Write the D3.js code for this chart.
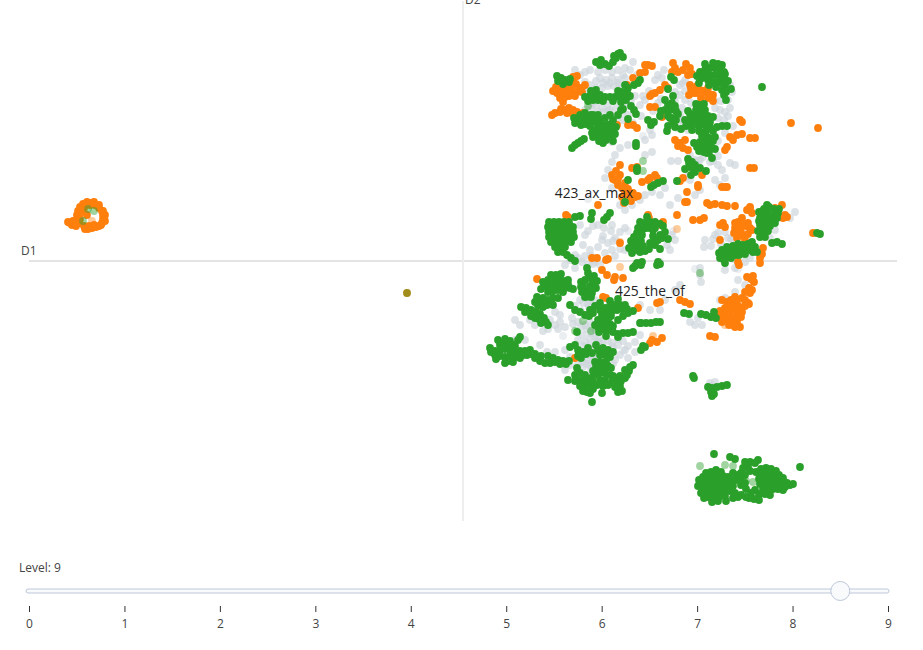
<!DOCTYPE html>
<html>
<head>
<meta charset="utf-8">
<script src="https://d3js.org/d3.v7.min.js"></script>
<style>
  html, body { margin: 0; padding: 0; background: #fff; }
  svg { display: block; }
  text { font-family: "Open Sans", Verdana, sans-serif; fill: #444; }
</style>
</head>
<body>
<svg id="chart"></svg>
<script>
// D1, D2 pairs
const grayPoints = [
  [112,191],[117,186],[122,189],[127,191],[135,189],[142,191],[149,189],[155,191],[162,193],[167,191],[170,199],[174,186],
  [137,183],[143,181],[149,183],[155,181],[162,183],[122,179],[127,176],[133,173],[139,173],[145,175],[151,175],[157,173],
  [127,156],[133,156],[139,153],[145,156],[122,151],[129,151],[135,149],[141,149],[147,151],[153,153],[159,155],[159,149],
  [165,146],[154,143],[160,141],[177,156],[182,161],[195,186],[201,191],[192,181],[199,183],[217,176],[222,181],[212,169],
  [217,166],[222,161],[219,153],[217,146],[220,139],[214,133],[225,131],[230,133],[252,153],[257,151],[262,149],[255,143],
  [261,141],[267,153],[265,161],[269,169],[267,176],[187,131],[182,121],[189,126],[165,116],[157,113],[149,119],[182,106],
  [189,109],[227,106],[232,101],[237,101],[247,99],[255,96],[259,91],[267,98],[272,96],[262,83],[257,76],[252,81],[237,71],
  [232,66],[227,81],[152,106],[149,99],[145,91],[142,83],[149,73],[157,56],[162,51],[169,56],[177,61],[182,66],[189,69],
  [197,66],[207,56],[215,63],[202,73],[135,36],[141,33],[149,36],[139,21],[145,18],[152,23],[117,36],[122,26],[120,16],
  [127,11],[149,11],[157,29],[162,33],[162,11],[204,16],[209,26],[212,21],[207,11],[197,-1],[112,6],[107,1],[102,-4],
  [112,-7],[119,-1],[125,-4],[132,-1],[137,-4],[262,29],[265,23],[252,26],[242,21],[241,14],[269,23],[287,3],[282,-1],
  [272,-7],[282,6],[307,23],[312,31],[327,43],[332,49],[237,-7],[237,-14],[238,-21],[262,-9],[275,-19],[282,-24],[272,-31],
  [262,-37],[257,-39],[127,-39],[122,-37],[132,-39],[117,-39],[127,-61],[122,-64],[115,-61],[109,-57],[97,-61],[92,-64],
  [87,-59],[97,-54],[92,-51],[120,-74],[127,-77],[132,-77],[135,-81],[127,-84],[122,-81],[115,-79],[127,-91],[130,-97],
  [125,-99],[120,-101],[117,-97],[127,-104],[132,-109],[129,-114],[107,-104],[102,-109],[137,-82],[149,-82],[155,-84],
  [162,-89],[157,-94],[152,-99],[165,-97],[172,-91],[177,-74],[172,-81],[202,-39],[197,-49],[227,-61],[232,-64],[235,-57],
  [239,-64],[217,-24],[212,-29],[177,-44],[187,-49],[72,-64],[67,-59],[57,-64],[52,-59],[62,-79],[52,-79],[77,-84],[84,-91],
  [92,-91],[102,-89],[107,-96],[249,-125],[247,-122],[252,-121],[137,-95],[143,-100],[150,-103],[112,-45],[118,-50],[126,-46]
];

const grayExtra = [
  [125,172],[133,180],[140,178],[147,178],[155,178],[160,186],[130,158],[145,150],[152,145],[168,160],[172,165],[180,165],
  [186,170],[195,158],[190,150],[178,145],[170,138],[165,155],[198,162],[212,160],[214,150],[218,142],[222,170],[220,178],
  [228,158],[252,160],[258,160],[265,145],[270,135],[255,120],[262,128],[255,105],[250,100],[235,100],[240,104],[225,85],
  [215,100],[208,100],[130,35],[125,30],[140,25],[148,30],[150,20],[135,14],[142,8],[152,5],[157,12],[128,5],[130,-3],
  [122,5],[115,3],[255,28],[258,17],[248,15],[250,22],[268,22],[270,2],[275,-3],[125,-43],[120,-42],[130,-66],[124,-68],
  [118,-66],[110,-63],[102,-66],[95,-68],[85,-68],[80,-70],[128,-72],[133,-70],[120,-85],[130,-88],[126,-94],[124,-103],
  [128,-108],[132,-96],[115,-103],[120,-106],[135,-77],[145,-80],[155,-78],[165,-85],[160,-80],[150,-86],[140,-80]
];

const orangePoints = [
  [-395,39],[-393,38],[-391,36],[-387,35],[-387,41],[-386,46],[-385,50],[-383,54],[-380,57],[-376,59],[-372,58],[-368,56],
  [-364,53],[-361,50],[-360,46],[-360,42],[-361,38],[-364,35],[-367,34],[-371,33],[-375,32],[-378,32],[-376,46],
  [93,174],[98,173],[103,174],[108,175],[113,177],[118,171],[94,168],[99,168],[104,169],[109,171],[114,169],[119,169],
  [97,163],[102,164],[100,159],[110,184],[114,185],[89,146],[97,149],[102,151],[106,153],[110,151],[114,149],[120,148],
  [164,176],[170,183],[177,188],[182,189],[185,196],[182,196],[189,195],[187,165],[192,168],[197,171],[202,176],[205,173],
  [189,167],[210,198],[212,193],[215,189],[220,191],[227,193],[223,197],[209,189],[229,187],[225,186],[227,176],[232,173],
  [237,171],[242,169],[247,166],[249,163],[245,173],[230,168],[154,136],[165,136],[170,136],[174,133],[187,154],[192,154],
  [199,144],[277,141],[279,139],[267,124],[274,126],[279,127],[287,123],[292,123],[270,121],[264,114],[262,111],[212,121],
  [217,118],[222,121],[220,113],[225,111],[215,115],[239,86],[287,93],[291,93],[235,74],[235,76],[224,69],[224,59],[220,83],
  [217,80],[264,74],[262,74],[259,74],[149,86],[152,81],[155,76],[159,73],[162,69],[167,66],[159,64],[164,61],[172,64],
  [157,96],[169,93],[174,94],[194,83],[192,86],[187,83],[185,81],[179,79],[244,58],[247,56],[252,57],[259,56],[264,55],
  [272,55],[287,53],[289,48],[312,53],[319,56],[322,46],[320,43],[328,138],[355,133],[105,44],[103,46],[135,56],[134,3],
  [129,3],[145,2],[143,1],[185,46],[186,43],[200,39],[198,36],[157,18],[214,46],[222,59],[230,41],[237,41],[241,43],
  [260,38],[257,36],[262,34],[275,39],[279,43],[272,33],[277,33],[275,27],[280,25],[285,27],[282,21],[287,33],[289,31],
  [284,51],[287,54],[324,44],[300,13],[299,7],[297,3],[297,-2],[275,-1],[276,-4],[284,-16],[288,-18],[290,-15],[291,-21],
  [289,-29],[287,-32],[257,21],[350,28],[74,-18],[144,-14],[152,-16],[151,-19],[139,-9],[160,-17],[259,-39],[264,-41],
  [269,-43],[274,-39],[279,-37],[282,-31],[257,-56],[262,-54],[267,-51],[272,-49],[277,-47],[282,-45],[259,-61],[264,-59],
  [269,-57],[274,-55],[279,-51],[270,-64],[274,-61],[277,-66],[265,-47],[270,-42],[285,-42],[286,-43],[286,-27],[247,-75],
  [252,-76],[217,-39],[222,-41],[227,-43],[194,-42],[197,-41],[140,-36],[143,-37],[189,-79],[194,-81],[187,-82],[199,-77],
  [112,-97],[175,-47],[-56,-32]
];

const orangeExtra = [
  [-383,42],[-381,49],[-379,53],[-373,56],[-369,59],[-364,56],[-360,50],[-358,46],[-358,40],[-362,36],[-369,36],[-374,35],
  [-379,35],[-390,40],[-384,38],[90,170],[96,178],[104,178],[110,178],[112,165],[106,165],[117,173],[122,176],
  [92,148],[98,152],[104,148],[109,148],[228,172],[233,168],[240,170],[245,168],[250,166],[234,175],[226,166],[238,163],
  [250,160],[245,163],[150,82],[157,86],[162,78],[165,72],[170,68],[155,82],[168,60],[161,58],[175,65],[153,90],[272,38],
  [276,32],[280,36],[283,35],[278,29],[285,38],[271,28],[274,23],[257,-50],[262,-47],[268,-46],[272,-44],[276,-50],
  [263,-52],[268,-60],[273,-58],[278,-56],[266,-64],[272,-66],[259,-55],[275,-45],[282,-39],[272,-36],[268,-39]
];

const greenPoints = [
  // top left
  [133,199],[137,196],[142,197],[146,195],[150,199],[153,203],[155,207],[157,208],[160,204],[151,205],[138,201],
  [94,185],[98,183],[102,181],[106,179],[95,180],[100,177],[107,182],
  [122,164],[127,165],[132,166],[137,166],[142,164],[147,164],[152,164],[157,164],[162,165],[159,169],[164,169],[163,161],[158,159],[165,173],[162,176],
  [111,143],[117,146],[122,143],[127,141],[122,137],[127,135],[132,139],[137,141],[142,143],[147,146],[135,133],[140,133],[144,136],[148,137],
  [137,128],[142,128],[134,126],[139,123],[143,121],[147,126],[149,131],[132,131],[129,128],[140,118],[117,140],[128,146],[135,146],
  [109,113],[112,116],[115,118],[118,120],[121,122],
  // top centre
  [171,176],[175,178],[177,181],[168,155],[171,151],[173,147],[185,141],[188,136],[191,139],
  [202,161],[205,156],[207,151],[202,151],[209,158],[207,143],[210,139],[205,145],[213,141],[208,184],[211,181],
  // top right
  [237,189],[242,191],[247,193],[252,193],[257,191],[261,189],[242,185],[247,186],[252,186],[257,185],[261,183],[234,185],[239,183],[245,181],
  [250,179],[255,179],[259,178],[262,176],[259,171],[263,169],[261,166],[263,161],[299,174],
  [233,157],[237,156],[241,157],[233,151],[237,151],[242,151],[230,146],[235,146],[240,146],[245,145],[227,141],[232,141],[237,141],[242,141],[247,139],
  [235,136],[241,136],[247,134],[239,125],[244,124],[237,119],[242,119],[247,118],[234,114],[239,114],[244,114],[249,113],[241,109],[246,109],
  [254,134],[259,135],[264,135],[225,102],[229,99],[232,96],[227,94],[237,93],[243,90],[232,89],[249,103],
  [173,118],[173,115],[174,93],[174,90],[165,81],[162,59],[200,80],[195,78],[191,76],[188,74],[214,80],
  // middle left
  [86,39],[91,39],[96,39],[101,39],[106,39],[85,34],[90,34],[95,34],[100,34],[105,34],[110,34],[86,29],[91,29],[96,29],[101,29],[106,29],[110,29],
  [86,24],[91,24],[96,24],[101,24],[106,24],[111,24],[88,19],[93,19],[98,19],[103,19],[108,19],[92,14],[97,14],[102,14],[95,9],[100,9],
  [112,44],[117,45],[129,48],[128,42],[147,48],[144,44],[141,41],[104,6],[108,3],[112,0],
  // middle centre
  [177,39],[182,38],[187,39],[192,39],[197,37],[175,33],[180,32],[187,33],[174,28],[179,26],[197,26],[202,29],[195,21],[199,23],[173,21],[178,20],
  [170,16],[175,15],[180,15],[172,11],[177,9],[192,16],[187,18],[174,-2],[179,-1],[172,-5],[194,-4],[195,-1],
  // middle right
  [296,49],[301,52],[306,54],[311,52],[315,48],[299,45],[305,47],[310,45],[314,43],[307,41],[297,43],
  [297,36],[302,36],[307,35],[295,30],[300,30],[305,30],[297,24],[302,24],
  [259,11],[264,14],[270,15],[275,17],[280,16],[285,17],[259,5],[263,8],[269,9],[274,11],[279,11],[287,11],[292,14],[261,1],[265,5],[272,6],
  [309,18],[314,19],[319,17],[354,28],[357,27],
  // lower left
  [80,-21],[85,-19],[90,-18],[95,-18],[100,-20],[105,-23],[82,-25],[87,-25],[92,-24],[97,-24],[102,-27],[107,-27],
  [125,-12],[127,-17],[122,-19],[130,-22],[120,-24],[127,-25],[133,-27],[123,-30],[129,-32],[119,-31],
  [58,-46],[63,-47],[68,-49],[73,-51],[77,-53],[81,-57],[83,-61],[85,-64],[75,-45],[80,-46],[85,-39],[90,-37],[95,-37],[74,-36],[80,-37],
  // lower centre
  [137,-49],[142,-47],[147,-45],[152,-44],[157,-44],[162,-44],[139,-54],[144,-52],[149,-50],[154,-49],[159,-48],[164,-48],
  [135,-59],[140,-59],[145,-57],[141,-64],[147,-63],[137,-65],[135,-66],[142,-69],[117,-51],[122,-54],[127,-49],[114,-71],[107,-44],[112,-49],
  [178,-62],[183,-62],[188,-62],[193,-61],[197,-61],[155,-73],[160,-72],[165,-72],[170,-71],[155,-76],[177,-62],
  [180,-85],[178,-89],[182,-86],
  // far lower left
  [28,-91],[32,-90],[37,-89],[42,-88],[47,-89],[52,-90],[57,-90],[62,-90],[67,-89],[37,-84],[41,-81],[42,-78],[32,-94],[37,-95],[42,-96],[47,-95],
  [52,-96],[57,-97],[45,-84],[51,-84],[42,-102],[57,-76],[55,-79],
  [72,-97],[77,-100],[82,-102],[87,-102],[85,-95],[90,-97],[95,-99],[100,-100],[103,-103],
  // lower column
  [107,-86],[112,-84],[115,-89],[120,-91],[123,-93],
  [135,-89],[140,-87],[145,-89],[137,-94],[142,-94],[147,-96],[132,-101],[137,-101],[143,-101],[133,-106],[138,-106],
  [114,-107],[112,-114],[117,-112],[122,-114],[115,-119],[120,-119],[125,-119],[117,-125],[122,-125],[127,-124],
  [132,-114],[137,-112],[142,-112],[147,-114],[152,-117],[157,-115],[162,-109],[167,-106],[170,-104],[164,-114],[137,-119],[142,-119],
  [149,-121],[134,-124],[140,-125],[155,-123],[157,-125],[124,-131],[127,-132],[120,-130],[129,-141],[139,-132],[155,-131],[159,-130],[105,-119],
  // small cluster and right pieces
  [230,-115],[231,-117],[245,-126],[249,-127],[254,-126],[259,-125],[264,-124],[248,-131],[251,-133],[249,-135],
  [221,-52],[226,-53],[238,-53],[243,-54],[248,-56],[253,-57],[251,-51],
  // bottom blob
  [251,-193],[267,-196],[272,-198],[282,-201],[287,-201],[292,-202],[285,-206],[295,-199],[337,-206],[330,-223],[327,-224],
  [243,-212],[248,-211],[253,-209],[258,-211],[240,-216],[245,-216],[250,-215],[255,-215],[260,-215],[265,-216],[270,-212],[275,-214],
  [238,-221],[243,-221],[248,-220],[253,-220],[258,-220],[263,-220],[268,-219],[273,-219],[240,-226],[245,-225],[250,-225],[255,-225],[260,-225],[265,-225],[270,-225],
  [242,-231],[247,-230],[252,-230],[257,-230],[262,-230],[267,-230],[245,-236],[251,-235],[256,-236],[262,-235],[249,-241],[255,-240],
  [278,-224],[283,-228],[288,-232],[292,-229],[296,-233],[302,-233],[307,-234],[282,-214],[287,-210],[293,-211],[280,-207],
  [298,-208],[303,-207],[308,-208],[313,-210],[296,-213],[301,-213],[306,-212],[311,-213],[316,-214],[320,-217],[296,-218],[301,-218],[306,-218],[311,-218],
  [316,-218],[321,-221],[324,-222],[297,-223],[302,-223],[307,-223],[312,-223],[317,-223],[322,-226],[300,-228],[305,-228],[310,-228],[315,-228],[320,-229]
];

const greenExtra = [
  [277,-218],[282,-222],[286,-237],[291,-238],[296,-239],[278,-234],[283,-236],[272,-232],[275,-236],[270,-237],[263,-240],
  [235,-225],[236,-219],[238,-232],[241,-237],[278,-212],
  [125,160],[130,161],[135,161],[140,160],[128,170],[133,171],[150,160],[155,170],[167,165],
  [122,148],[130,146],[132,143],[112,138],[118,136],[130,124],[136,120],[145,132],[152,127],[150,120],[138,136],[150,141],[153,134],[155,146],[158,151],
  [236,178],[246,176],[253,174],[242,197],[250,198],[255,197],[259,196],[262,187],[265,180],[268,172],
  [225,150],[227,147],[223,135],[229,131],[236,130],[243,130],[250,130],[222,141],[250,144],[228,136],[252,124],
  [160,152],[165,142],[205,172],[210,165],[212,155],[198,150],[197,145],[213,150],[215,147],[205,135],[212,134],[218,132],[204,130],[209,143],
  [236,110],[244,108],[231,118],[250,120],[252,112],[246,123],[240,128],[226,98],[231,92],[228,86],[222,92],
  [183,33],[190,31],[192,33],[200,35],[184,44],[171,24],[168,20],[166,13],[169,8],[182,10],[186,12],[190,18],[197,12],[190,25],[205,22],[170,-7],[178,-4],[197,-3],
  [256,8],[262,-2],[257,3],[268,3],[276,6],[282,7],[290,9],[294,9],[284,12],[289,19],[296,40],[303,41],[312,38],[316,52],[304,56],[300,50],
  [78,-28],[85,-31],[95,-29],[100,-31],[90,-30],[88,-14],[93,-14],[98,-13],[105,-19],[110,-28],
  [118,-21],[124,-7],[131,-15],[134,-20],[128,-36],[122,-36],[118,-26],
  [62,-51],[68,-55],[72,-57],[76,-58],[78,-62],[84,-44],[72,-41],[78,-41],[90,-44],
  [132,-45],[137,-42],[130,-52],[132,-64],[126,-55],[147,-40],[155,-38],[165,-52],[170,-50],[145,-69],[150,-65],[155,-59],[160,-55],[148,-55],[143,-75],[136,-71],[150,-71],
  [27,-87],[33,-98],[45,-100],[50,-101],[60,-94],[35,-79],[47,-80],[52,-85],[64,-94],[68,-93],[72,-93],[78,-95],[92,-101],[97,-103],[106,-100],
  [115,-95],[118,-97],[125,-87],[129,-92],[133,-84],[140,-93],[150,-91],[145,-105],[140,-108],[148,-107],[130,-110],[112,-120],[128,-117],[130,-121],[145,-124],[150,-115],[158,-120],[162,-117],[166,-110],[152,-126],[130,-128]
];

// single points with much lower opacity
const grayFaint = [[150,120],[180,125],[260,170],[215,140],[125,62],[165,30],[210,30],[232,-8],[275,-8],[100,-75],[160,-90]];
const orangeFaint = [[157,19],[157,-6],[214,32],[262,-64],[190,-75],[280,-44],[-387,37],[-371,40]];
const greenFaint = [[-375,52],[-369,50],[-380,40],[237,-12],[124,-36],[112,-70],[128,-70],[120,-60],[237,-205],[262,-204],[270,-205],[280,-215],[283,-220],[290,-221],[-56,-32],[125,155],[180,90],[180,100]];

const nodeLabels = ["423_ax_max", "425_the_of"];
const labelPoints = [[131,68],[187,-30]];

const levelTicks = [0, 1, 2, 3, 4, 5, 6, 7, 8, 9];
const levelLabel = "Level: 9";
const handleValue = 8.5;

const width = 923;
const height = 650;
const margin = { left: 29, right: 26, top: 1, plotBottom: 129 };

const svg = d3.select("#chart").attr("width", width).attr("height", height);

// slight softening, the markers in the picture have fuzzy edges
svg.append("defs").append("filter").attr("id", "soft")
  .attr("x", "-5%").attr("y", "-5%").attr("width", "110%").attr("height", "110%")
  .append("feGaussianBlur").attr("stdDeviation", 0.5);

const x = d3.scaleLinear().domain([-434, 434]).range([margin.left, width - margin.right]);
const y = d3.scaleLinear().domain([-260, 260]).range([height - margin.plotBottom, margin.top]);

// axis lines through the origin
svg.append("line").attr("x1", x(-434)).attr("x2", x(434)).attr("y1", y(0)).attr("y2", y(0))
  .attr("stroke", "#e4e4e4").attr("stroke-width", 2);
svg.append("line").attr("x1", x(0)).attr("x2", x(0)).attr("y1", y(260)).attr("y2", y(-260))
  .attr("stroke", "#eeeeee").attr("stroke-width", 2);

const marks = svg.append("g").attr("filter", "url(#soft)");

const drawPoints = (data, color, opacity) => {
  marks.append("g").selectAll("circle").data(data).enter().append("circle")
    .attr("cx", d => x(d[0]))
    .attr("cy", d => y(d[1]))
    .attr("r", 3.9)
    .attr("fill", color)
    .attr("fill-opacity", opacity)
}

drawPoints(grayPoints, "#cdd5dc", 0.7)
drawPoints(grayExtra, "#cdd5dc", 0.7)
drawPoints(grayFaint, "#cdd5dc", 0.4)
drawPoints(orangeFaint, "#ff7f0e", 0.4)
drawPoints(orangePoints, "#ff7f0e", 1)
drawPoints(orangeExtra, "#ff7f0e", 1)
drawPoints(greenFaint, "#2ca02c", 0.45)
drawPoints(greenPoints, "#2ca02c", 1)
drawPoints(greenExtra, "#2ca02c", 1)

// labels on two nodes
svg.append("g").selectAll("text").data(nodeLabels).enter().append("text")
  .attr("x", (d, i) => x(labelPoints[i][0]))
  .attr("y", (d, i) => y(labelPoints[i][1]))
  .attr("dy", "0.35em")
  .attr("text-anchor", "middle")
  .attr("font-size", 13.8)
  .style("fill", "#222")
  .text(d => d);

svg.append("text").attr("x", x(-434) - 8).attr("y", y(0) - 6).attr("font-size", 12).text("D1");
svg.append("text").attr("x", x(0) + 2).attr("y", 4).attr("font-size", 12).text("D2");

// slider
const level = d3.scaleLinear().domain([0, 9]).range([29, 888]);

svg.append("text").attr("x", 19).attr("y", 572).attr("font-size", 12).text(levelLabel);

svg.append("rect").attr("x", 26).attr("y", 589).attr("width", 863).attr("height", 4).attr("rx", 2)
  .attr("fill", "#f8fafc").attr("stroke", "#bec8d9");

const sliderAxis = svg.append("g")
  .attr("transform", "translate(0,606)")
  .call(d3.axisBottom(level).tickValues(levelTicks).tickSize(6).tickPadding(7).tickFormat(d3.format("d")));
sliderAxis.select(".domain").remove();
sliderAxis.selectAll("line").attr("stroke", "#333");
sliderAxis.selectAll("text").attr("font-size", 12).attr("font-family", '"Open Sans", Verdana, sans-serif').style("fill", "#444");

svg.append("circle").attr("cx", level(handleValue)).attr("cy", 591).attr("r", 9.5)
  .attr("fill", "#f8fafc").attr("stroke", "#bec8d9");
</script>
</body>
</html>
